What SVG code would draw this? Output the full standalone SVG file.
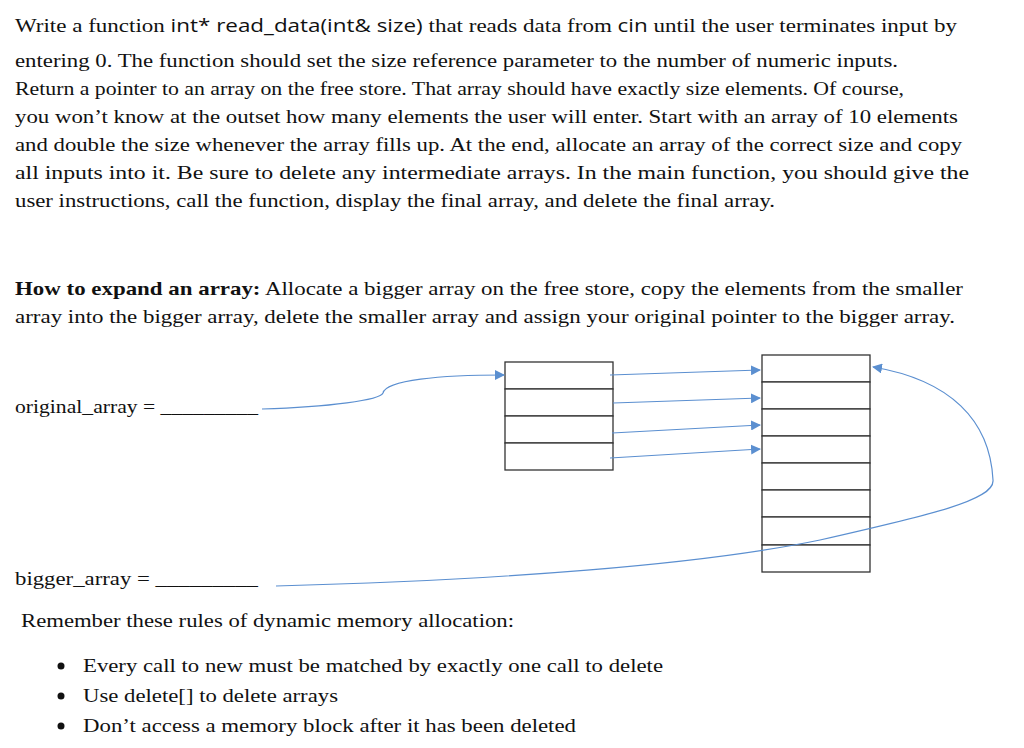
<svg xmlns="http://www.w3.org/2000/svg" width="1024" height="748" viewBox="0 0 1024 748">
<style>
text{font-family:"Liberation Serif","Times New Roman",serif;font-size:19.5px;fill:#111}
.s{font-family:"Open Sans","Liberation Sans",sans-serif;font-size:19px}
.cell{fill:#fff;stroke:#333;stroke-width:1.3}
.c{fill:none;stroke:#5b8fd0;stroke-width:1.2}
</style>
<defs><marker id="a" viewBox="0 0 10 10" refX="9" refY="5" markerWidth="10" markerHeight="10" markerUnits="userSpaceOnUse" orient="auto"><path d="M0,0L10,5L0,10z" fill="#5b8fd0"/></marker></defs>
<rect width="1024" height="748" fill="#fff"/>
<g id="text">
<text x="15" y="32" textLength="942" lengthAdjust="spacingAndGlyphs">Write a function <tspan class="s">int* read_data(int&amp; size)</tspan> that reads data from <tspan class="s">cin</tspan> until the user terminates input by</text>
<text x="15" y="67" textLength="883" lengthAdjust="spacingAndGlyphs">entering 0.  The function should set the size reference parameter to the number of numeric inputs.</text>
<text x="15" y="95" textLength="889" lengthAdjust="spacingAndGlyphs">Return a pointer to an array on the free store.  That array should have exactly size elements.  Of course,</text>
<text x="15" y="123" textLength="943" lengthAdjust="spacingAndGlyphs">you won’t know at the outset how many elements the user will enter.  Start with an array of 10 elements</text>
<text x="15" y="151" textLength="947" lengthAdjust="spacingAndGlyphs">and double the size whenever the array fills up.  At the end, allocate an array of the correct size and copy</text>
<text x="15" y="179" textLength="954" lengthAdjust="spacingAndGlyphs">all inputs into it.  Be sure to delete any intermediate arrays.  In the main function, you should give the</text>
<text x="15" y="207" textLength="760" lengthAdjust="spacingAndGlyphs">user instructions, call the function, display the final array, and delete the final array.</text>
<text x="15" y="295" textLength="948" lengthAdjust="spacingAndGlyphs"><tspan font-weight="bold">How to expand an array:</tspan>  Allocate a bigger array on the free store, copy the elements from the smaller</text>
<text x="15" y="323" textLength="940" lengthAdjust="spacingAndGlyphs">array into the bigger array, delete the smaller array and assign your original pointer to the bigger array.</text>
<text x="15" y="413" textLength="243" lengthAdjust="spacingAndGlyphs">original_array = _________</text>
<text x="15" y="585" textLength="243" lengthAdjust="spacingAndGlyphs">bigger_array = _________</text>
<text x="21" y="627" textLength="493" lengthAdjust="spacingAndGlyphs">Remember these rules of dynamic memory allocation:</text>
<circle cx="61" cy="666" r="3.5" fill="#111"/><circle cx="61" cy="696" r="3.5" fill="#111"/><circle cx="61" cy="726" r="3.5" fill="#111"/>
<text x="83" y="672" textLength="580" lengthAdjust="spacingAndGlyphs">Every call to new must be matched by exactly one call to delete</text>
<text x="83" y="702" textLength="255" lengthAdjust="spacingAndGlyphs">Use delete[] to delete arrays</text>
<text x="83" y="732" textLength="493" lengthAdjust="spacingAndGlyphs">Don’t access a memory block after it has been deleted</text>
</g>
<g id="small-array">
<rect class="cell" x="505" y="362" width="108" height="27"/><rect class="cell" x="505" y="389" width="108" height="27"/><rect class="cell" x="505" y="416" width="108" height="27"/><rect class="cell" x="505" y="443" width="108" height="27"/>
</g>
<g id="big-array">
<rect class="cell" x="762" y="355" width="108" height="27"/><rect class="cell" x="762" y="382" width="108" height="27"/><rect class="cell" x="762" y="409" width="108" height="27"/><rect class="cell" x="762" y="436" width="108" height="27"/><rect class="cell" x="762" y="463" width="108" height="27"/><rect class="cell" x="762" y="490" width="108" height="27"/><rect class="cell" x="762" y="517" width="108" height="28"/><rect class="cell" x="762" y="545" width="108" height="27"/>
</g>
<g id="connectors">
<path class="c" marker-end="url(#a)" d="M262,409C330,407 380,400 383,393C386,380 440,375 504,375"/>
<path class="c" marker-end="url(#a)" d="M610,375L760,370"/>
<path class="c" marker-end="url(#a)" d="M613,403L760,398"/>
<path class="c" marker-end="url(#a)" d="M612,433L760,425"/>
<path class="c" marker-end="url(#a)" d="M610,458L760,449"/>
<path class="c" marker-end="url(#a)" d="M276,586C500,580 700,565 820,540C930,515 995,500 993,480C990,420 950,380 873,367"/>
</g>
</svg>
